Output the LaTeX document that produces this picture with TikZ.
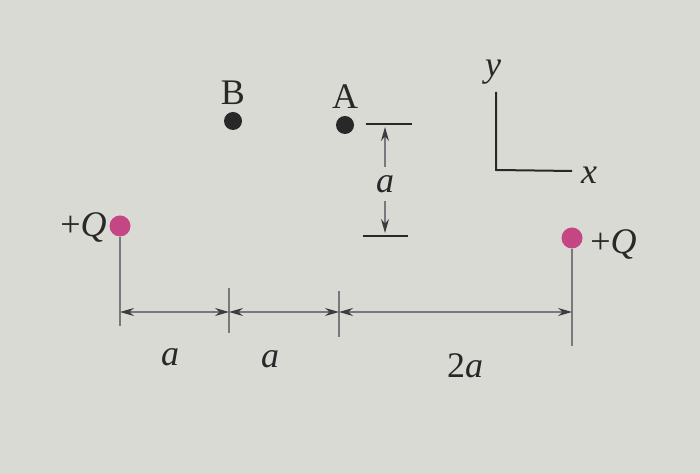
\documentclass[tikz,border=0pt]{standalone}
\usepackage{fontspec}
\setmainfont{Liberation Serif}
\usetikzlibrary{arrows.meta}
\definecolor{bg}{RGB}{218,218,213}
\definecolor{charge}{RGB}{196,70,130}
\definecolor{ink}{RGB}{40,40,40}
\definecolor{dim}{RGB}{120,120,125}
\definecolor{tipc}{RGB}{60,60,62}
\begin{document}
\begin{tikzpicture}[x=0.5pt,y=-0.5pt,
  >={Stealth[length=7pt,width=4pt,color=tipc]},
  lbl/.style={font=\fontsize{18}{21}\selectfont, text=ink, inner sep=0pt},
  chg/.style={circle, fill=charge, minimum size=10.5pt, inner sep=0pt},
  pt/.style={circle, fill=ink, minimum size=9pt, inner sep=0pt},
  dimline/.style={draw=dim, line width=0.6pt},
  dimarrow/.style={dimline, <->},
  axis/.style={draw=ink, line width=1pt}]
\fill[bg] (0,0) rectangle (700,474);
\useasboundingbox (0,0) rectangle (700,474);
% charges
\node[chg] (chargeL) at (120,226) {};
\node[lbl, anchor=east] (QL) at (107,228) {+\textit{Q}};
\node[chg] (chargeR) at (572,238) {};
\node[lbl, anchor=west] (QR) at (590,245) {+\textit{Q}};
% points
\node[pt] (dotB) at (233,121) {};
\node[lbl] (B) at (233,93) {B};
\node[pt] (dotA) at (345,125) {};
\node[lbl] (A) at (345,97) {A};
% vertical dimension
\coordinate (t1) at (366,124);
\coordinate (t2) at (412,124);
\coordinate (b1) at (363,236);
\coordinate (b2) at (408,236);
\draw[dimline, draw=ink] (t1) -- (t2);
\draw[dimline, draw=ink] (b1) -- (b2);
\node[lbl] (av) at (385,184) {\textit{a}};
\draw[dimline, ->] (av.north) ++(0,-8) -- (385,127);
\draw[dimline, ->] (av.south) ++(0,8) -- (385,233);
% axes
\coordinate (O) at (496,170);
\coordinate (ytop) at (496,92);
\coordinate (xend) at (572,171);
\draw[axis] (ytop) -- (O) -- (xend);
\node[lbl] (ylab) at (493,72) {\textit{y}};
\node[lbl] (xlab) at (589,175) {\textit{x}};
% vertical extension lines
\coordinate (L2) at (120,326);
\coordinate (R2) at (572,346);
\draw[dimline] (chargeL.south) -- (L2);
\draw[dimline] (chargeR.south) -- (R2);
\coordinate (k1t) at (229,288);
\coordinate (k1b) at (229,333);
\coordinate (k2t) at (339,291);
\coordinate (k2b) at (339,337);
\draw[dimline] (k1t) -- (k1b);
\draw[dimline] (k2t) -- (k2b);
% horizontal dimension
\coordinate (h0) at (120,312);
\coordinate (h1) at (229,312);
\coordinate (h2) at (339,312);
\coordinate (h3) at (572,312);
\draw[dimarrow] (h0) -- (h1);
\draw[dimarrow] (h1) -- (h2);
\draw[dimarrow] (h2) -- (h3);
\node[lbl] (a1) at (170,357) {\textit{a}};
\node[lbl] (a2) at (270,359) {\textit{a}};
\node[lbl] (a3) at (465,366) {2\textit{a}};
\end{tikzpicture}
\end{document}
